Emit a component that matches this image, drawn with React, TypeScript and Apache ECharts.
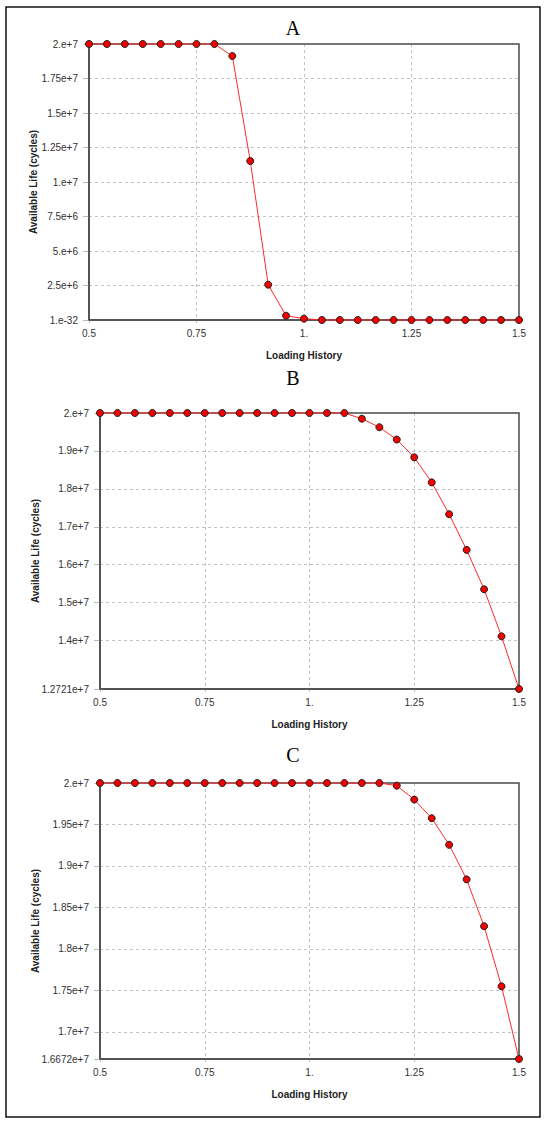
import React, { useEffect, useRef } from "react";
import * as echarts from "echarts";

const LOADING: number[] = [
  0.5, 0.5417, 0.5833, 0.625, 0.6667, 0.7083, 0.75, 0.7917, 0.8333, 0.875, 0.9167, 0.9583, 1.0,
  1.0417, 1.0833, 1.125, 1.1667, 1.2083, 1.25, 1.2917, 1.3333, 1.375, 1.4167, 1.4583, 1.5,
];

const LIFE_A: number[] = [
  2e7, 2e7, 2e7, 2e7, 2e7, 2e7, 2e7, 2e7, 1.913e7, 1.152e7, 2.56e6, 3.1e5, 1e5,
  1e-32, 1e-32, 1e-32, 1e-32, 1e-32, 1e-32, 1e-32, 1e-32, 1e-32, 1e-32, 1e-32, 1e-32,
];
const LIFE_B: number[] = [
  2e7, 2e7, 2e7, 2e7, 2e7, 2e7, 2e7, 2e7, 2e7, 2e7, 2e7, 2e7, 2e7, 2e7, 2e7,
  1.985e7, 1.9625e7, 1.93e7, 1.883e7, 1.817e7, 1.733e7, 1.639e7, 1.535e7, 1.411e7, 1.2721e7,
];
const LIFE_C: number[] = [
  2e7, 2e7, 2e7, 2e7, 2e7, 2e7, 2e7, 2e7, 2e7, 2e7, 2e7, 2e7, 2e7, 2e7, 2e7, 2e7, 2e7,
  1.9968e7, 1.98e7, 1.9575e7, 1.9255e7, 1.8838e7, 1.8273e7, 1.7548e7, 1.6672e7,
];

const X_TICKS: number[] = [0.5, 0.75, 1.0, 1.25, 1.5];
const X_LABELS: string[] = ["0.5", "0.75", "1.", "1.25", "1.5"];

const A_TICKS: number[] = [1e-32, 2.5e6, 5e6, 7.5e6, 1e7, 1.25e7, 1.5e7, 1.75e7, 2e7];
const A_LABELS: string[] = ["1.e-32", "2.5e+6", "5.e+6", "7.5e+6", "1.e+7", "1.25e+7", "1.5e+7", "1.75e+7", "2.e+7"];
const B_TICKS: number[] = [1.2721e7, 1.4e7, 1.5e7, 1.6e7, 1.7e7, 1.8e7, 1.9e7, 2e7];
const B_LABELS: string[] = ["1.2721e+7", "1.4e+7", "1.5e+7", "1.6e+7", "1.7e+7", "1.8e+7", "1.9e+7", "2.e+7"];
const C_TICKS: number[] = [1.6672e7, 1.7e7, 1.75e7, 1.8e7, 1.85e7, 1.9e7, 1.95e7, 2e7];
const C_LABELS: string[] = ["1.6672e+7", "1.7e+7", "1.75e+7", "1.8e+7", "1.85e+7", "1.9e+7", "1.95e+7", "2.e+7"];

const PANEL_TITLES: string[] = ["A", "B", "C"];
const X_NAME = "Loading History";
const Y_NAME = "Available Life (cycles)";

const FONT = "Liberation Sans";

function labelFor(ticks: number[], labels: string[]) {
  return (v: number) => {
    let best = 0;
    let bd = Infinity;
    ticks.forEach((t, i) => {
      const d = Math.abs(t - v);
      if (d < bd) {
        bd = d;
        best = i;
      }
    });
    return labels[best];
  };
}

export default function App() {
  const ref = useRef<HTMLDivElement>(null);

  useEffect(() => {
    if (!ref.current) return;
    const chart = echarts.init(ref.current, null, { renderer: "svg" });

    const grids = [
      { left: 89, top: 44, width: 430, height: 276 },
      { left: 100, top: 413, width: 419, height: 276 },
      { left: 100, top: 783, width: 419, height: 276 },
    ];
    const yDefs = [
      { ticks: A_TICKS, labels: A_LABELS, data: LIFE_A, gap: 51 },
      { ticks: B_TICKS, labels: B_LABELS, data: LIFE_B, gap: 60 },
      { ticks: C_TICKS, labels: C_LABELS, data: LIFE_C, gap: 60 },
    ];
    const titleY = [28, 378, 755];

    const gridLine = {
      show: true,
      showMinLine: false,
      showMaxLine: false,
      lineStyle: { color: "#c4c4c4", type: [3, 3], width: 1 },
    };

    const option: any = {
      animation: false,
      backgroundColor: "#ffffff",
      grid: grids.map((g) => ({
        ...g,
        show: true,
        borderColor: "#4a4a4a",
        borderWidth: 1.5,
        backgroundColor: "transparent",
        containLabel: false,
        z: 3,
      })),
      xAxis: grids.map((_, i) => ({
        type: "value",
        gridIndex: i,
        min: 0.5,
        max: 1.5,
        interval: 0.25,
        name: X_NAME,
        nameLocation: "middle",
        nameGap: 30,
        nameMoveOverlap: false,
        nameTextStyle: { fontFamily: FONT, fontSize: 10, fontWeight: "bold", color: "#222" },
        axisLine: { show: true, lineStyle: { color: "#4a4a4a", width: 1.5 } },
        axisTick: { show: true, length: 3, lineStyle: { color: "#bbbbbb" } },
        axisLabel: {
          fontFamily: FONT,
          fontSize: 10,
          color: "#333",
          margin: 8,
          formatter: labelFor(X_TICKS, X_LABELS),
        },
        splitLine: gridLine,
      })),
      yAxis: yDefs.map((d, i) => ({
        type: "value",
        gridIndex: i,
        min: d.ticks[0],
        max: d.ticks[d.ticks.length - 1],
        name: Y_NAME,
        nameLocation: "middle",
        nameGap: d.gap,
        nameMoveOverlap: false,
        nameTextStyle: { fontFamily: FONT, fontSize: 10, fontWeight: "bold", color: "#222" },
        axisLine: { show: true, lineStyle: { color: "#4a4a4a", width: 1.5 } },
        axisTick: { show: true, length: 6, customValues: d.ticks, lineStyle: { color: "#bbbbbb" } },
        axisLabel: {
          fontFamily: FONT,
          fontSize: 10,
          color: "#333",
          margin: 11,
          customValues: d.ticks,
          formatter: labelFor(d.ticks, d.labels),
        },
        splitLine: gridLine,
      })),
      series: yDefs.map((d, i) => ({
        type: "line",
        xAxisIndex: i,
        yAxisIndex: i,
        data: LOADING.map((x, k) => [x, d.data[k]]),
        symbol: "circle",
        symbolSize: 7,
        showSymbol: true,
        clip: false,
        lineStyle: { color: "#ff2a2a", width: 1 },
        itemStyle: { color: "#f00000", borderColor: "#222", borderWidth: 1 },
        z: 5,
      })),
      graphic: [
        {
          type: "rect",
          shape: { x: 6, y: 7, width: 534, height: 1110 },
          style: { fill: "none", stroke: "#111", lineWidth: 1.5 },
          silent: true,
        },
        ...PANEL_TITLES.map((t, i) => ({
          type: "text",
          x: 293,
          y: titleY[i],
          style: {
            text: t,
            font: '20px "Liberation Serif"',
            fill: "#000",
            textAlign: "center",
            textVerticalAlign: "middle",
          },
        })),
      ],
    };

    chart.setOption(option);
    return () => chart.dispose();
  }, []);

  return (
    <div
      ref={ref}
      style={{ position: "absolute", left: 0, top: 0, width: 550, height: 1127, background: "#fff" }}
    />
  );
}
